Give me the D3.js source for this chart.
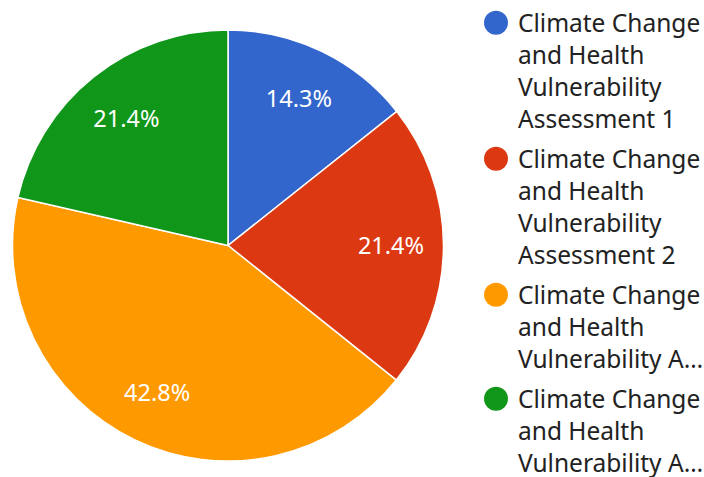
<!DOCTYPE html>
<html>
<head>
<meta charset="utf-8">
<script src="https://cdn.jsdelivr.net/npm/d3@7"></script>
<style>
  body { margin: 0; background: #fff; }
  svg { display: block; font-family: "Noto Sans", "Open Sans", sans-serif; }
</style>
</head>
<body>
<svg id="mainSvg" width="704" height="477"></svg>
<script>
let names = [
    ["Climate Change", "and Health", "Vulnerability", "Assessment 1"],
    ["Climate Change", "and Health", "Vulnerability", "Assessment 2"],
    ["Climate Change", "and Health", "Vulnerability A\u2026"],
    ["Climate Change", "and Health", "Vulnerability A\u2026"]
];
let values = [14.3, 21.4, 42.8, 21.4];
let labels = ["14.3%", "21.4%", "42.8%", "21.4%"];
let colors = ["#3366cc", "#dc3912", "#ff9900", "#109618"];

let canvas = d3.select("#mainSvg");
let cx = 228, cy = 245.5, radius = 215.5;

let pie = d3.pie().sort(null).value(d => d);
let arc = d3.arc().innerRadius(0).outerRadius(radius);
let labelArc = d3.arc().innerRadius(163).outerRadius(163);

let g = canvas.append("g").attr("transform", `translate(${cx},${cy})`);

g.selectAll("path")
    .data(pie(values))
    .enter()
        .append("path")
        .attr("d", arc)
        .attr("fill", (d, i) => colors[i])
        .attr("stroke", "#fff")
        .attr("stroke-width", 1.5);

g.selectAll("text")
    .data(pie(values))
    .enter()
        .append("text")
        .attr("transform", d => `translate(${labelArc.centroid(d)})`)
        .attr("text-anchor", "middle")
        .attr("dy", 8.5)
        .attr("fill", "#fff")
        .attr("font-size", 23.5)
        .text((d, i) => labels[i]);

// legend
let lineH = 32, gap = 40;
let y = 22.7;
let legend = canvas.append("g");
names.forEach((lines, i) => {
    legend.append("circle")
        .attr("cx", 496)
        .attr("cy", y)
        .attr("r", 12)
        .attr("fill", colors[i]);
    lines.forEach((t, j) => {
        legend.append("text")
            .attr("x", 518)
            .attr("y", y + j * lineH)
            .attr("dy", 9)
            .attr("font-size", 24.5)
            .attr("fill", "#222")
            .text(t);
    });
    y += (lines.length - 1) * lineH + gap;
});
</script>
</body>
</html>
